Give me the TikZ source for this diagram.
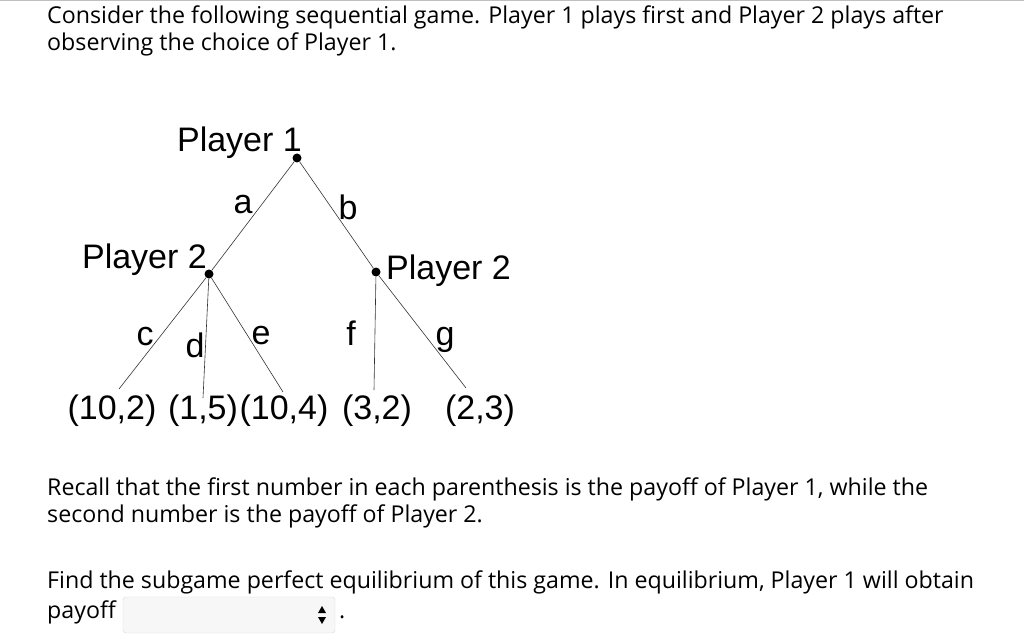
\documentclass[tikz,border=0pt]{standalone}
\usepackage{fontspec}
\setmainfont{Open Sans}
\newfontfamily\treefont{Liberation Sans}
\begin{document}
\begin{tikzpicture}[x=1pt,y=-1pt,
  body/.style={anchor=base west,inner sep=0pt,font=\fontsize{23.2}{28}\selectfont},
  tl/.style={inner sep=0pt,font=\treefont\fontsize{34}{38}\selectfont},
  dot/.style={circle,fill=black,inner sep=0pt,minimum size=9pt},
  edge/.style={draw=black!80,line width=0.6pt}]
\useasboundingbox (0,0) rectangle (1024,644);
\draw[black!25] (0,0.5) -- (1024,0.5);
\node[body] (t1) at (47,24) {Consider the following sequential game. Player 1 plays first and Player 2 plays after};
\node[body] (t2) at (47,51) {observing the choice of Player 1.};
\node[body] (t3) at (47,495) {Recall that the first number in each parenthesis is the payoff of Player 1, while the};
\node[body] (t4) at (47,522) {second number is the payoff of Player 2.};
\node[body] (t5) at (47,588) {Find the subgame perfect equilibrium of this game. In equilibrium, Player 1 will obtain};
\node[body] (t6) at (47,618) {payoff};
\node[draw=black!15,fill=black!3,rounded corners=3pt,minimum width=212pt,minimum height=36pt,inner sep=0pt] (box) at (229,615) {};
\fill (318,613) -- (326,613) -- (322,606) -- cycle;
\fill (318,617) -- (326,617) -- (322,624) -- cycle;
\node[body] (dotend) at (339,618) {.};
% tree
\node[dot] (p1) at (297,158) {};
\node[dot] (p2l) at (209,274) {};
\node[dot] (p2r) at (376,272) {};
\coordinate (lc) at (119,389);
\coordinate (ld) at (203,398);
\coordinate (le) at (283,392);
\coordinate (lf) at (374,390);
\coordinate (lg) at (466,388);
\draw[edge] (p1) -- (p2l);
\draw[edge] (p1) -- (p2r);
\draw[edge] (p2l) -- (lc);
\draw[edge] (p2l) -- (ld);
\draw[edge] (p2l) -- (le);
\draw[edge] (p2r) -- (lf);
\draw[edge] (p2r) -- (lg);
\node[tl,anchor=east] (n1) at (302,143) {Player 1};
\node[tl,anchor=east] (n2) at (207,260) {Player 2};
\node[tl,anchor=west] (n3) at (386,271) {Player 2};
\node[tl] (la) at (243,205) {a};
\node[tl] (lb) at (348,207) {b};
\node[tl] (lcx) at (145,337) {c};
\node[tl] (ldx) at (195,345) {d};
\node[tl] (lex) at (261,336) {e};
\node[tl] (lfx) at (351,333) {f};
\node[tl] (lgx) at (445,340) {g};
\node[tl] (v1) at (112,411) {(10,2)};
\node[tl] (v2) at (203,411) {(1,5)};
\node[tl] (v3) at (284,411) {(10,4)};
\node[tl] (v4) at (377,411) {(3,2)};
\node[tl] (v5) at (480,411) {(2,3)};
\end{tikzpicture}
\end{document}
